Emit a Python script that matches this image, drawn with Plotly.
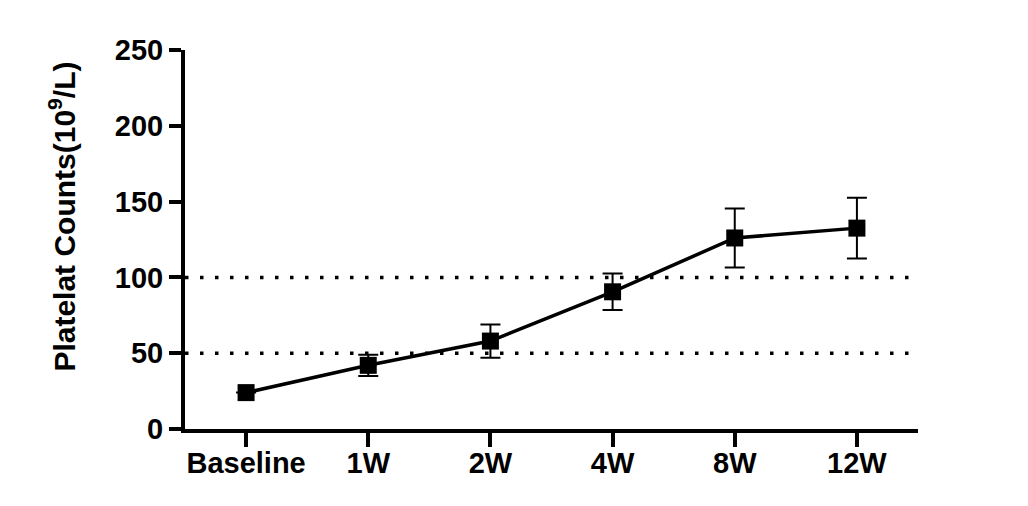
import plotly.graph_objects as go

categories = ["Baseline", "1W", "2W", "4W", "8W", "12W"]
means = [24, 42, 58, 90.5, 126, 132.5]
errors = [0, 7, 11, 12, 19.5, 20]
ref_levels = [50, 100]
y_ticks = [0, 50, 100, 150, 200, 250]

xs = list(range(len(categories)))

fig = go.Figure()
for lvl in ref_levels:
    fig.add_trace(go.Scatter(
        x=[-0.5, 5.5], y=[lvl, lvl], mode="lines",
        line=dict(color="black", width=3.5, dash="3.5px,11.5px"),
        hoverinfo="skip", showlegend=False))

fig.add_trace(go.Scatter(
    x=xs, y=means, mode="lines+markers",
    line=dict(color="black", width=3.5),
    marker=dict(symbol="square", size=17, color="black"),
    error_y=dict(type="data", array=errors, visible=True,
                 color="black", thickness=2, width=10),
    showlegend=False))

fig.update_layout(
    width=1028, height=506,
    margin=dict(l=177, r=118, t=42, b=85),
    plot_bgcolor="white", paper_bgcolor="white",
    font=dict(family="Liberation Sans, Arial", color="black"),
)
fig.add_annotation(
    text="Platelat Counts(10<sup>9</sup>/L)", textangle=-90,
    xref="paper", yref="paper", x=-0.168, y=0.56,
    xanchor="center", yanchor="middle", showarrow=False,
    font=dict(size=30, weight="bold", color="black"),
)
fig.update_xaxes(
    range=[-0.5, 5.5], tickmode="array", tickvals=xs, ticktext=categories,
    showgrid=False, zeroline=False, showline=True, linecolor="black", linewidth=4,
    ticks="outside", ticklen=14, tickwidth=4, tickcolor="black",
    tickfont=dict(size=29, weight="bold"), automargin=False,
    ticklabelstandoff=-9,
)
fig.update_yaxes(
    range=[0, 250], tickmode="array", tickvals=y_ticks,
    showgrid=False, zeroline=False, showline=True, linecolor="black", linewidth=4,
    ticks="outside", ticklen=12, tickwidth=4, tickcolor="black",
    tickfont=dict(size=29, weight="bold"), automargin=False,
)
fig.write_html("out.html")
